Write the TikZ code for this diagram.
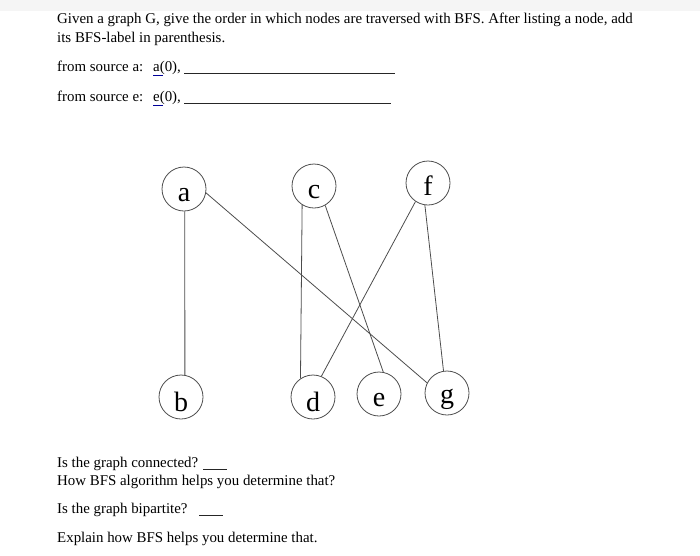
\documentclass[tikz,border=0pt]{standalone}
\usepackage{fontspec}
\setmainfont{Liberation Serif}
\newcommand{\lowlbl}[2]{\raisebox{-#1pt}[0pt][0pt]{#2}}
\begin{document}
\begin{tikzpicture}[x=1pt,y=-1pt,
 vtx/.style={circle,draw=black!70,line width=0.8pt,minimum size=44pt,inner sep=0pt,font=\fontsize{28}{28}\selectfont},
 edge/.style={draw=black!70,line width=0.8pt},
 txt/.style={anchor=base west,inner sep=0pt,font=\fontsize{14.9}{17}\selectfont,text=black},
 blank/.style={draw=black!85,line width=0.6pt},
 uline/.style={draw=blue!60!black,line width=0.6pt}]
\useasboundingbox (0,0) rectangle (700,555);
\fill[gray!8] (0,0) rectangle (700,11);
% text
\node[txt] (t1) at (57,23) {Given a graph G, give the order in which nodes are traversed with BFS. After listing a node, add};
\node[txt] (t2) at (57,42) {its BFS-label in parenthesis.};
\node[txt] (t3) at (57,71) {from source a:};
\node[txt] (t3b) at (153,71) {a(0),};
\coordinate (u1s) at (184,73); \coordinate (u1e) at (395,73);
\draw[blank] (u1s) -- (u1e);
\coordinate (m1s) at (153,75); \coordinate (m1e) at (163,75);
\draw[uline] (m1s) -- (m1e);
\node[txt] (t4) at (57,101) {from source e:};
\node[txt] (t4b) at (153,101) {e(0),};
\coordinate (u2s) at (184,103); \coordinate (u2e) at (391,103);
\draw[blank] (u2s) -- (u2e);
\coordinate (m2s) at (153,105); \coordinate (m2e) at (163,105);
\draw[uline] (m2s) -- (m2e);
% nodes
\node[vtx] (a) at (184,189) {\lowlbl{12}{a}};
\node[vtx] (c) at (314,186) {\lowlbl{12}{c}};
\node[vtx] (f) at (428,183) {\lowlbl{12}{f}};
\node[vtx] (b) at (181,397) {\lowlbl{14}{b}};
\node[vtx] (d) at (313,397) {\lowlbl{14}{d}};
\node[vtx] (e) at (379,394) {\lowlbl{12}{e}};
\node[vtx] (g) at (447,393) {\lowlbl{10}{g}};
% edges
\draw[edge] (a.-88) -- (b.80);
\draw[edge] (a.-10) -- (g.153);
\draw[edge] (c.-122) -- (d.124);
\draw[edge] (c.-60) -- (e.79);
\draw[edge] (f.-124) -- (d.68);
\draw[edge] (f.-98) -- (g.99);
% bottom text
\node[txt] (q1) at (57,467) {Is the graph connected?};
\coordinate (u3s) at (203,469); \coordinate (u3e) at (227,469);
\draw[blank] (u3s) -- (u3e);
\node[txt] (q2) at (57,485) {How BFS algorithm helps you determine that?};
\node[txt] (q3) at (57,513) {Is the graph bipartite?};
\coordinate (u4s) at (199,515); \coordinate (u4e) at (223,515);
\draw[blank] (u4s) -- (u4e);
\node[txt] (q4) at (57,542) {Explain how BFS helps you determine that.};
\end{tikzpicture}
\end{document}
